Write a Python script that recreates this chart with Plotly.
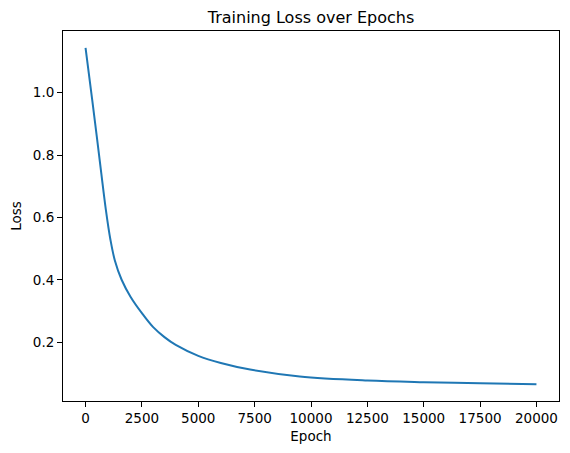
import plotly.graph_objects as go

epochs = [0, 300, 600, 900, 1100, 1300, 1600, 2000, 2500, 3000, 3500, 4000,
          5000, 6000, 7300, 9500, 12500, 15000, 17500, 20000]
loss = [1.144, 0.975, 0.80, 0.625, 0.53, 0.462, 0.400, 0.345, 0.293, 0.248,
        0.216, 0.191, 0.156, 0.133, 0.112, 0.090, 0.077, 0.0715, 0.068, 0.065]
x_ticks = [0, 2500, 5000, 7500, 10000, 12500, 15000, 17500, 20000]
y_ticks = [0.2, 0.4, 0.6, 0.8, 1.0]

# page has an 8px body margin, so the figure is sized to fill the rest
W, H = 562, 445
L, R, T, B = 55, 11, 23, 52
pw = W - L - R
ph = H - T - B

fig = go.Figure()
fig.add_trace(go.Scatter(x=epochs, y=loss, mode="lines",
                         line=dict(color="#1f77b4", width=2, shape="spline", smoothing=1.0),
                         showlegend=False))

font = dict(family="DejaVu Sans", size=13.5, color="black")
axis_common = dict(showline=True, linecolor="black", linewidth=1, mirror=True,
                   ticks="outside", ticklen=5, tickwidth=1, tickcolor="black",
                   showgrid=False, zeroline=False, tickfont=font, automargin=False)

fig.update_xaxes(range=[-1000, 21000], tickvals=x_ticks,
                 ticktext=[str(v) for v in x_ticks],
                 title=dict(text="Epoch", font=font, standoff=6),
                 **axis_common)
fig.update_yaxes(range=[0.0111, 1.198], tickvals=y_ticks,
                 ticktext=[f"{v:.1f}" for v in y_ticks],
                 title=dict(text="Loss", font=font, standoff=8),
                 **axis_common)

fig.update_layout(
    width=W, height=H,
    margin=dict(l=L, r=R, t=T, b=B, pad=0, autoexpand=False),
    paper_bgcolor="white", plot_bgcolor="white",
    title=dict(text="Training Loss over Epochs", x=(L + pw / 2) / W, xanchor="center",
               y=1 - 9.5 / H, yanchor="middle",
               font=dict(family="DejaVu Sans", size=16, color="black")),
)

fig.write_html("out.html")
